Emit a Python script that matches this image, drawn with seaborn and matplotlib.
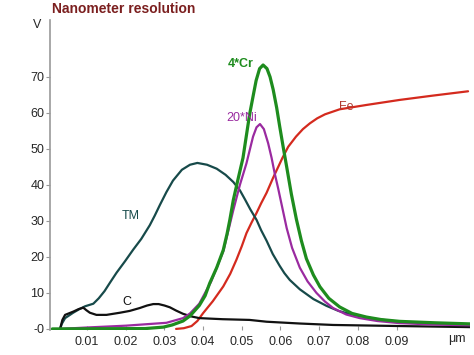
import matplotlib
matplotlib.use("Agg")
import matplotlib.pyplot as plt
import seaborn as sns

# depth profile values (x in um, y in V)
tm_x = [0.003, 0.0035, 0.0043, 0.0064, 0.008, 0.0095, 0.0116, 0.013, 0.0145, 0.016, 0.0176,
        0.0198, 0.0219, 0.024, 0.0262, 0.0275, 0.0288, 0.0305, 0.0322, 0.0345, 0.0366, 0.0385,
        0.041, 0.0435, 0.0458, 0.0478, 0.0495, 0.0508, 0.0522, 0.0538, 0.055, 0.0564, 0.058,
        0.0598, 0.061, 0.0624, 0.065, 0.0685, 0.0719, 0.075, 0.0788, 0.085, 0.0908, 0.1, 0.109]
tm_y = [0, 1.5, 3.0, 4.5, 5.5, 6.3, 7.0, 8.5, 10.5, 13.0, 15.6,
        18.8, 22.0, 25.0, 28.8, 31.5, 34.4, 38.0, 41.2, 44.2, 45.6, 46.1,
        45.6, 44.5, 42.8, 40.8, 38.5, 36.0, 33.2, 30.3, 27.4, 24.5, 20.8,
        17.5, 15.5, 13.6, 11.0, 8.3, 6.4, 5.0, 3.9, 2.7, 2.0, 1.5, 1.2]

c_x = [0.003, 0.0036, 0.0043, 0.0064, 0.0078, 0.009, 0.0098, 0.0107, 0.0124, 0.015, 0.0185,
       0.021, 0.0236, 0.0255, 0.0271, 0.0285, 0.03, 0.0314, 0.033, 0.0348, 0.0368, 0.039,
       0.045, 0.052, 0.0564, 0.065, 0.0736, 0.0908, 0.109]
c_y = [0, 2.5, 3.9, 4.8, 5.5, 5.9, 5.2, 4.5, 3.9, 3.9, 4.5,
       5.0, 5.8, 6.5, 6.9, 6.9, 6.5, 6.0, 5.1, 4.2, 3.5, 3.0,
       2.7, 2.5, 2.0, 1.5, 1.1, 0.8, 0.5]

cr_x = [0.001, 0.025, 0.0297, 0.032, 0.0348, 0.0366, 0.039, 0.0405, 0.0417, 0.0435, 0.0452,
        0.0462, 0.0469, 0.0478, 0.049, 0.0503, 0.052, 0.0528, 0.0537, 0.0546, 0.0555, 0.0565,
        0.0573, 0.0581, 0.059, 0.0598, 0.0607, 0.0616, 0.0628, 0.0641, 0.0654, 0.0667, 0.0685,
        0.0702, 0.0725, 0.0753, 0.0785, 0.0822, 0.086, 0.0908, 0.1, 0.109]
cr_y = [0, 0.1, 0.5, 1.1, 2.2, 3.6, 6.5, 9.2, 12.7, 17.0, 21.9,
        26.5, 30.3, 35.8, 41.5, 47.5, 59.5, 64.0, 69.0, 72.3, 73.3, 72.3,
        70.0, 66.5, 61.5, 56.2, 50.5, 45.0, 37.5, 30.5, 24.5, 19.5, 15.0,
        11.7, 8.5, 6.1, 4.3, 3.3, 2.6, 2.1, 1.7, 1.4]

ni_x = [0.003, 0.01, 0.02, 0.0305, 0.0348, 0.0366, 0.039, 0.042, 0.0452, 0.0478, 0.0495,
        0.0512, 0.0529, 0.0538, 0.0547, 0.0557, 0.0568, 0.0577, 0.0585, 0.0594, 0.0602, 0.0616,
        0.063, 0.065, 0.067, 0.0693, 0.0715, 0.0736, 0.077, 0.0805, 0.085, 0.0908, 0.1, 0.109]
ni_y = [0, 0.4, 0.9, 1.7, 3.0, 4.3, 7.0, 13.0, 21.5, 33.0, 40.0,
        46.0, 53.4, 56.0, 56.9, 55.5, 51.6, 47.5, 43.2, 39.0, 35.0, 28.0,
        22.5, 17.0, 13.2, 10.0, 7.6, 5.8, 4.0, 3.0, 2.2, 1.6, 1.2, 1.0]

fe_x = [0.033, 0.035, 0.037, 0.0385, 0.04, 0.0425, 0.0452, 0.047, 0.0486, 0.05, 0.0512,
        0.0525, 0.0538, 0.055, 0.0564, 0.0581, 0.0595, 0.0605, 0.062, 0.064, 0.0658, 0.0676,
        0.0695, 0.0715, 0.0753, 0.0822, 0.0908, 0.0994, 0.1085]
fe_y = [0, 0.2, 0.8, 2.2, 4.4, 7.7, 11.8, 15.3, 19.2, 23.0, 26.6,
        29.5, 32.2, 34.9, 37.8, 42.0, 45.2, 47.5, 50.6, 53.4, 55.5, 57.1,
        58.5, 59.6, 61.0, 62.2, 63.6, 64.8, 66.0]

y_ticks = [0, 10, 20, 30, 40, 50, 60, 70]
y_labels = ["-0", "10", "20", "30", "40", "50", "60", "70"]
x_ticks = [0.01, 0.02, 0.03, 0.04, 0.05, 0.06, 0.07, 0.08, 0.09]
x_labels = ["0.01", "0.02", "0.03", "0.04", "0.05", "0.06", "0.07", "0.08", "0.09"]

sns.set_style("white")
plt.rcParams["font.family"] = ["Liberation Sans", "DejaVu Sans"]

fig = plt.figure(figsize=(4.74, 3.55), dpi=100)
ax = fig.add_axes([50 / 474, 1 - 330 / 355, 420 / 474, 310 / 355])

sns.lineplot(x=fe_x, y=fe_y, color="#d42a1e", linewidth=1.6, ax=ax)
sns.lineplot(x=tm_x, y=tm_y, color="#174a4a", linewidth=1.6, ax=ax)
sns.lineplot(x=c_x, y=c_y, color="#111111", linewidth=1.6, ax=ax)
sns.lineplot(x=ni_x, y=ni_y, color="#9a2aa0", linewidth=1.6, ax=ax)
sns.lineplot(x=cr_x, y=cr_y, color="#1e8c1e", linewidth=2.3, ax=ax)

ax.set_xlim(0.0004, 0.109)
ax.set_ylim(-0.3, 85.8)
ax.set_xticks(x_ticks)
ax.set_xticklabels(x_labels)
ax.set_yticks(y_ticks)
ax.set_yticklabels(y_labels)
ax.tick_params(axis="x", direction="in", length=3, color="#999999", labelsize=9, pad=4)
ax.tick_params(axis="y", direction="out", length=3, color="#999999", labelsize=9, pad=1)
ax.tick_params(left=True, bottom=True)

for side in ["top", "right", "bottom"]:
    ax.spines[side].set_visible(False)
ax.spines["left"].set_color("#999999")
ax.spines["left"].set_linewidth(1.2)

# curve labels
ax.text(0.0213, 31.4, "TM", color="#174a4a", fontsize=9, ha="center", va="center")
ax.text(0.0203, 7.6, "C", color="#111111", fontsize=9, ha="center", va="center")
ax.text(0.0498, 73.6, "4*Cr", color="#1e8c1e", fontsize=9, fontweight="bold", ha="center", va="center")
ax.text(0.0500, 58.6, "20*Ni", color="#9a2aa0", fontsize=9, ha="center", va="center")
ax.text(0.0769, 61.6, "Fe", color="#b03a30", fontsize=9, ha="center", va="center")

fig.text(457 / 474, 1 - 339 / 355, "μm", fontsize=9, ha="center", va="center")
fig.text(37 / 474, 1 - 25 / 355, "V", fontsize=9, ha="center", va="center")
fig.text(52 / 474, 1 - 9 / 355, "Nanometer resolution", fontsize=10, fontweight="bold",
         color="#7b1f1f", ha="left", va="center")

fig.savefig("out.png", dpi=100)
